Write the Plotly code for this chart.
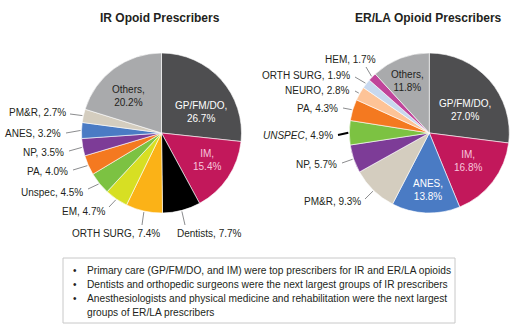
import math
import plotly.graph_objects as go

W, H = 520, 334

# ---- data ----
ir_labels = ["GP/FM/DO", "IM", "Dentists", "ORTH SURG", "EM", "Unspec", "PA", "NP", "ANES", "PM&R", "Others"]
ir_values = [26.7, 15.4, 7.7, 7.4, 4.7, 4.5, 4.0, 3.5, 3.2, 2.7, 20.2]
ir_colors = ["#4e4e50", "#c2185b", "#000000", "#fbb217", "#d7df23", "#7cc242", "#f47920",
             "#7d3c97", "#4a7bc4", "#d4cdbf", "#a9aaac"]

er_labels = ["GP/FM/DO", "IM", "ANES", "PM&R", "NP", "UNSPEC", "PA", "NEURO", "ORTH SURG", "HEM", "Others"]
er_values = [27.0, 16.8, 13.8, 9.3, 5.7, 4.9, 4.3, 2.8, 1.9, 1.7, 11.8]
er_colors = ["#4e4e50", "#c2185b", "#4a7bc4", "#d4cdbf", "#7d3c97", "#7cc242", "#f47920",
             "#fdc397", "#c8d8ee", "#c0449a", "#a9aaac"]

bullets = [
    "Primary care (GP/FM/DO, and IM) were top prescribers for IR and ER/LA opioids",
    "Dentists and orthopedic surgeons were the next largest groups of IR prescribers",
    "Anesthesiologists and physical medicine and rehabilitation were the next largest",
]
bullet_cont = "groups of ER/LA prescribers"

FONT = "Liberation Sans, Arial, Helvetica, sans-serif"
TXT = "#231f20"

# ---- layout geometry (pixels, top-left origin) ----
R = 80
ir_c = (161.5, 133)
er_c = (429.3, 133)

def px(x):
    return x / W

def py(y):
    return 1 - y / H

def domain(c):
    return dict(x=[px(c[0] - R), px(c[0] + R)], y=[py(c[1] + R), py(c[1] - R)])

fig = go.Figure()
for labels, values, colors, c in [(ir_labels, ir_values, ir_colors, ir_c),
                                  (er_labels, er_values, er_colors, er_c)]:
    fig.add_trace(go.Pie(labels=labels, values=values, sort=False, direction="clockwise",
                         rotation=0, textinfo="none", hoverinfo="label+percent",
                         marker=dict(colors=colors, line=dict(color="white", width=0.6)),
                         domain=domain(c), showlegend=False))

def rim_point(values, idx, c, r=R):
    tot = sum(values)
    cum = sum(values[:idx]) + values[idx] / 2
    a = cum / tot * 2 * math.pi
    return c[0] + r * math.sin(a), c[1] - r * math.cos(a)

annotations = []
shapes = []

def label(text, x, y, xanchor="center", color=TXT, size=10):
    annotations.append(dict(x=px(x), y=py(y), xref="paper", yref="paper", text=text,
                            showarrow=False, xanchor=xanchor, yanchor="middle",
                            font=dict(family=FONT, size=size, color=color)))

def leader(values, idx, c, end, color="#6d6e71", width=0.8):
    sx, sy = rim_point(values, idx, c, R + 1)
    shapes.append(dict(type="line", xref="paper", yref="paper",
                       x0=px(sx), y0=py(sy), x1=px(end[0]), y1=py(end[1]),
                       line=dict(color=color, width=width)))

def fmt(lbl, v, italic=False):
    name = f"<i>{lbl}</i>" if italic else lbl
    return f"{name}, {v:.1f}%"

# titles
label("<b>IR Opoid Prescribers</b>", 160, 18, size=12)
label("<b>ER/LA Opioid Prescribers</b>", 428, 18, size=12)

# IR inside labels
label(fmt("GP/FM/DO", ir_values[0]).replace(", ", ",<br>"), 201, 112, color="white")
label(fmt("IM", ir_values[1]).replace(", ", ",<br>"), 207, 160, color="#f7c6dc")
label(fmt("Others", ir_values[10]).replace(", ", ",<br>"), 128, 96, color=TXT)

# IR outside labels: (index, text x, text y, anchor, leader end)
ir_out = [
    (9, 68, 113, "right", (70, 114)),
    (8, 63, 133, "right", (66, 133)),
    (7, 66, 152, "right", (69, 151)),
    (6, 70, 172, "right", (73, 170)),
    (5, 85, 192, "right", (88, 189)),
    (4, 107, 211, "right", (109, 207)),
    (3, 116, 233, "center", (142, 225)),
    (2, 209, 233, "center", (185, 225)),
]
for idx, tx, ty, anc, end in ir_out:
    label(fmt(ir_labels[idx], ir_values[idx]), tx, ty, xanchor=anc)
    leader(ir_values, idx, ir_c, end)

# ER inside labels
label(fmt("GP/FM/DO", er_values[0]).replace(", ", ",<br>"), 465, 110, color="white")
label(fmt("IM", er_values[1]).replace(", ", ",<br>"), 468, 161, color="#f7c6dc")
label(fmt("ANES", er_values[2]).replace(", ", ",<br>"), 428, 190, color="white")
label(fmt("Others", er_values[10]).replace(", ", ",<br>"), 407, 81, color=TXT)

er_out = [
    (9, 350, 60, "center", (366, 67)),
    (8, 352, 75, "right", (355, 77)),
    (7, 352, 90, "right", (355, 91)),
    (6, 340, 108, "right", (343, 108)),
    (5, 335, 135, "right", (338, 135)),
    (4, 339, 164, "right", (342, 163)),
    (3, 363, 201, "right", (365, 199)),
]
for idx, tx, ty, anc, end in er_out:
    italic = er_labels[idx] == "UNSPEC"
    label(fmt(er_labels[idx], er_values[idx], italic), tx, ty, xanchor=anc)
    if italic:
        leader(er_values, idx, er_c, end, color="#000000", width=2)
    else:
        leader(er_values, idx, er_c, end)

# summary box
shapes.append(dict(type="rect", xref="paper", yref="paper",
                   x0=px(63), x1=px(455), y0=py(323), y1=py(258),
                   line=dict(color="#c8c8c8", width=1), fillcolor="white", layer="below"))
ys = [270, 284, 298]
for text, y in zip(bullets, ys):
    label("•", 75, y, xanchor="center", size=10)
    label(text, 85, y, xanchor="left", size=10.2)
label(bullet_cont, 85, 312, xanchor="left", size=10.2)

fig.update_layout(width=W, height=H, margin=dict(l=0, r=0, t=0, b=0),
                  paper_bgcolor="white", plot_bgcolor="white",
                  annotations=annotations, shapes=shapes)

fig.write_html("out.html")
